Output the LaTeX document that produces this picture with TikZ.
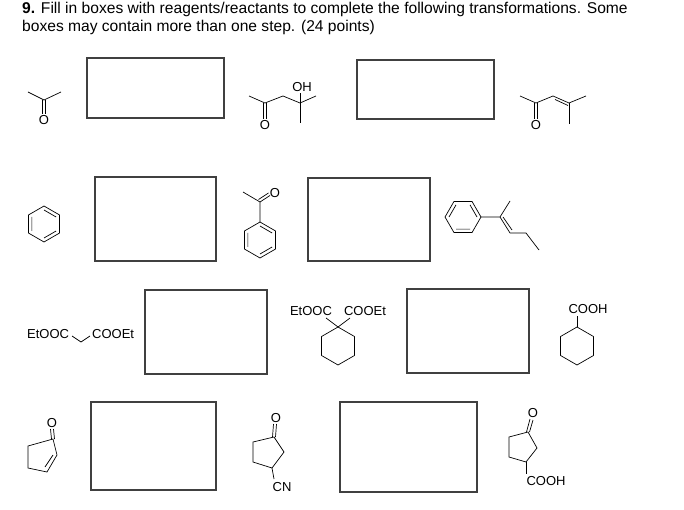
\documentclass[tikz,border=0pt]{standalone}
\usepackage{fontspec}
\setmainfont{Liberation Sans}
\begin{document}
\begin{tikzpicture}[x=1pt,y=-1pt,
  box/.style={draw=black!75,line width=1.1pt},
  bond/.style={line width=0.7pt},
  lbl/.style={font=\fontsize{13}{14}\selectfont,inner sep=0pt}]
\useasboundingbox (0,0) rectangle (684,510);
\node[anchor=north west,align=left,inner sep=0pt,font=\fontsize{15.6}{18}\selectfont] (title) at (22,2)
 {\textbf{9.} Fill in boxes with reagents/reactants to complete the following transformations. Some\\boxes may contain more than one step. (24 points)};
% boxes
\draw[box] (87,58) rectangle (224,118);
\draw[box] (357,60) rectangle (494,119);
\draw[box] (95,177) rectangle (216,261);
\draw[box] (308,178) rectangle (430,261);
\draw[box] (145,290) rectangle (267,374);
\draw[box] (407,289) rectangle (529,373);
\draw[box] (91,402) rectangle (216,490);
\draw[box] (340,402) rectangle (477,492);
% acetone
\draw[bond] (28,92) -- (44,100) -- (61,92);
\draw[bond] (42.5,100) -- (42.5,114) (45.5,100) -- (45.5,114);
\node[lbl] at (44,120) {O};
% diacetone alcohol
\draw[bond] (249,96) -- (265,103) -- (283,96) -- (300,103) -- (316,96);
\draw[bond] (300,103) -- (300,123) (300,103) -- (300,93);
\draw[bond] (263.5,103) -- (263.5,119) (266.5,103) -- (266.5,119);
\node[lbl] at (265,125) {O};
\node[lbl] at (302,87) {OH};
% mesityl oxide
\draw[bond] (520,96) -- (536,103) -- (553,96) -- (569,103) -- (586,96);
\draw[bond] (569,103) -- (569,124);
\draw[bond] (555,99.5) -- (568,105.5);
\draw[bond] (534.5,103) -- (534.5,119) (537.5,103) -- (537.5,119);
\node[lbl] at (536,125) {O};
% benzene
\draw[bond] (44,224) +(90:18) -- +(150:18) -- +(210:18) -- +(270:18) -- +(330:18) -- +(30:18) -- cycle;
\draw[bond] (44,224) +(150:14) -- +(210:14) +(270:14) -- +(330:14) +(30:14) -- +(90:14);
% acetophenone
\draw[bond] (260,240) +(90:18) -- +(150:18) -- +(210:18) -- +(270:18) -- +(330:18) -- +(30:18) -- cycle;
\draw[bond] (260,240) +(150:14) -- +(210:14) +(270:14) -- +(330:14) +(30:14) -- +(90:14);
\draw[bond] (260,222) -- (260,202) -- (243,192);
\draw[bond] (260,202) -- (270,195.5) (258.5,199.5) -- (268.5,193);
\node[lbl] at (275,193) {O};
% phenyl alkene
\draw[bond] (463,217) +(0:18) -- +(60:18) -- +(120:18) -- +(180:18) -- +(240:18) -- +(300:18) -- cycle;
\draw[bond] (463,217) +(60:14) -- +(120:14) +(180:14) -- +(240:14) +(300:14) -- +(0:14);
\draw[bond] (481,217) -- (500,217) -- (510,201);
\draw[bond] (500,217) -- (510,233) -- (526,233) -- (539,250);
\draw[bond] (503,217) -- (512,230);
% malonate
\node[lbl,anchor=west] at (27,334) {EtOOC};
\draw[bond] (72,336) -- (81,342) -- (90,336);
\node[lbl,anchor=west] at (92,334) {COOEt};
% diester cyclohexane
\node[lbl] at (311,311) {EtOOC};
\node[lbl] at (365,311) {COOEt};
\draw[bond] (326,318) -- (338,327) -- (350,318);
\draw[bond] (338,346) +(90:19) -- +(150:19) -- +(210:19) -- +(270:19) -- +(330:19) -- +(30:19) -- cycle;
% cyclohexane COOH
\node[lbl] at (588,309) {COOH};
\draw[bond] (577,316) -- (577,327);
\draw[bond] (577,346) +(90:19) -- +(150:19) -- +(210:19) -- +(270:19) -- +(330:19) -- +(30:19) -- cycle;
% cyclopentenone
\draw[bond] (53,439) -- (28,446) -- (28,468) -- (47,472) -- (57,455) -- cycle;
\draw[bond] (45,467) -- (53,455);
\draw[bond] (51.5,439) -- (50.5,429) (54.5,439) -- (53.5,429);
\node[lbl] at (52,423) {O};
% cyano ketone
\draw[bond] (274,437) -- (253,442) -- (253,462) -- (272,468) -- (284,452) -- cycle;
\draw[bond] (272.5,437) -- (273.5,424) (275.5,437) -- (276.5,424);
\node[lbl] at (276,418) {O};
\draw[bond] (272,468) -- (274,479);
\node[lbl] at (282,487) {CN};
% keto acid
\draw[bond] (528,432) -- (509,437) -- (509,457) -- (526,462) -- (537,448) -- cycle;
\draw[bond] (526.5,432) -- (530,419) (529.5,432) -- (533,420);
\node[lbl] at (533,413) {O};
\draw[bond] (526,462) -- (526,474);
\node[lbl] at (546,481) {COOH};
\end{tikzpicture}
\end{document}
